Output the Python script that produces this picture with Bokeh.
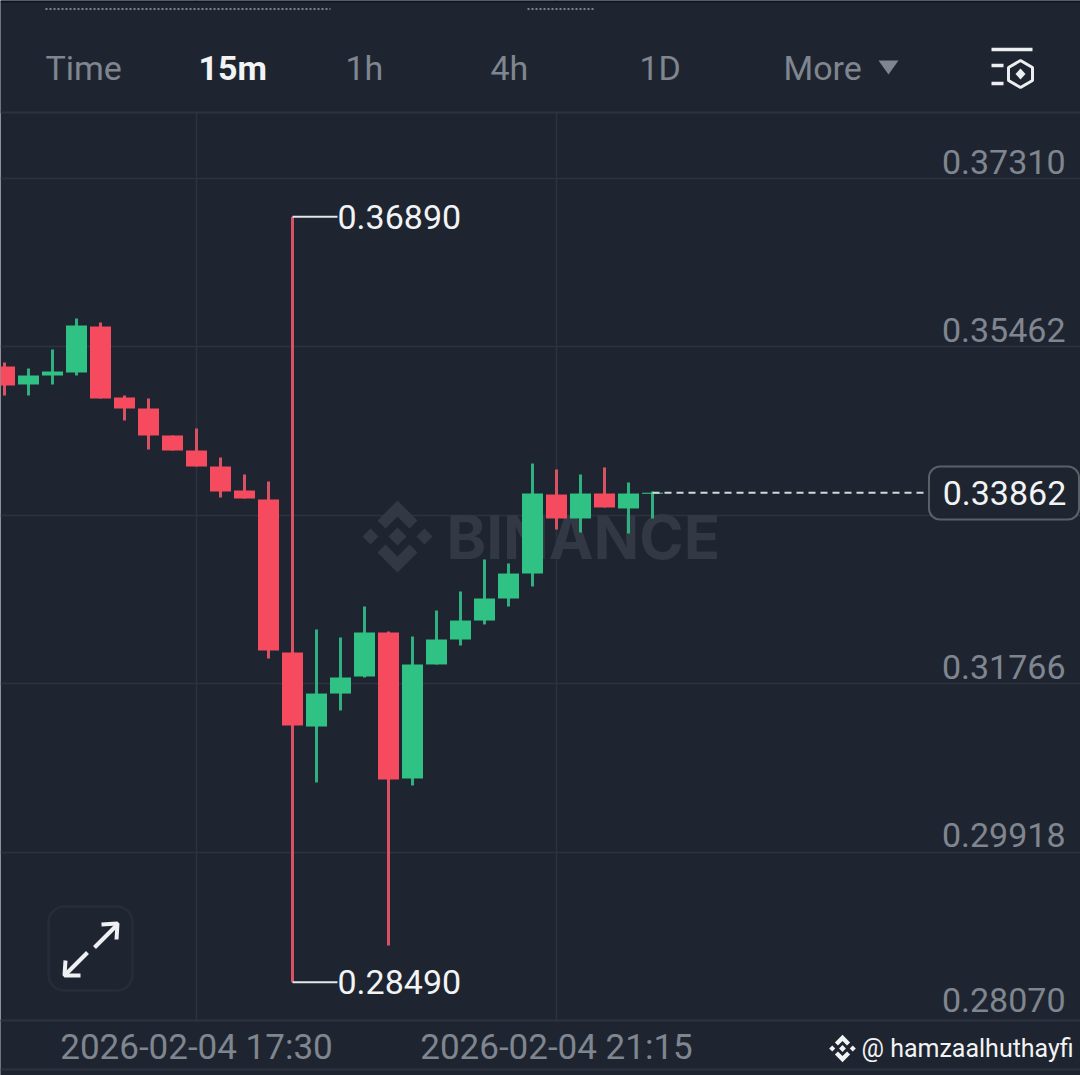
import pandas as pd
from bokeh.plotting import figure
from bokeh.embed import file_html
from bokeh.resources import INLINE
from bokeh.core.properties import value
from bokeh.models import BoxAnnotation, FixedTicker, ColumnDataSource

# ---- data ----
first_candle = "2026-02-04 15:30"
opens = [0.35247, 0.35049, 0.35148, 0.35181, 0.35686, 0.34907, 0.34786, 0.34490, 0.34325, 0.34149,
         0.33886, 0.33787, 0.32108, 0.31296, 0.31658, 0.31845, 0.32328, 0.30726, 0.31977, 0.32251,
         0.32459, 0.32701, 0.32975, 0.33842, 0.33579, 0.33853, 0.33689, 0.33850]
closes = [0.35038, 0.35148, 0.35192, 0.35697, 0.34896, 0.34786, 0.34490, 0.34325, 0.34149, 0.33875,
          0.33798, 0.32130, 0.31307, 0.31658, 0.31834, 0.32328, 0.30715, 0.31977, 0.32251, 0.32459,
          0.32701, 0.32975, 0.33853, 0.33579, 0.33853, 0.33700, 0.33853, 0.33862]
highs = [0.35291, 0.35225, 0.35433, 0.35774, 0.35730, 0.34929, 0.34896, 0.34490, 0.34566, 0.34248,
         0.34062, 0.33985, 0.36890, 0.32361, 0.32273, 0.32613, 0.32339, 0.32284, 0.32569, 0.32778,
         0.33129, 0.33085, 0.34182, 0.34117, 0.34062, 0.34139, 0.33974, 0.33875]
lows = [0.34929, 0.34929, 0.35049, 0.35148, 0.34896, 0.34654, 0.34336, 0.34325, 0.34149, 0.33809,
        0.33798, 0.32042, 0.28490, 0.30682, 0.31472, 0.31834, 0.28893, 0.30649, 0.31977, 0.32185,
        0.32416, 0.32613, 0.32833, 0.33458, 0.33425, 0.33700, 0.33414, 0.33579]
y_ticks = [0.37310, 0.35462, 0.33614, 0.31766, 0.29918, 0.28070]
y_labels = ["0.37310", "0.35462", "", "0.31766", "0.29918", "0.28070"]
x_tick_times = ["2026-02-04 17:30", "2026-02-04 21:15"]
high_mark = "0.36890"
low_mark = "0.28490"
last_price = "0.33862"
tabs = ["Time", "15m", "1h", "4h", "1D", "More"]
brand = "BINANCE"
credit = "@ hamzaalhuthayfi"

# ---- style ----
BG = "#1e2530"
GRID = "#2c333e"
RED = "#f64b5f"
GREEN = "#2fc284"
RED_W = "#d65264"
GREEN_W = "#2fb07e"
GREY = "#80868f"
WM = "#323945"
FONT = value("Roboto")


def ms(t):
    return pd.Timestamp(t).value // 10**6


PX_MS = 37500.0            # one screen pixel, in ms (24 px per 15 min)
PX_PRICE = 0.00010974      # one screen pixel, in price


def px(x):
    return ms(x_tick_times[0]) + (x - 196) * PX_MS


def py(y):
    return y_ticks[0] - (y - 178) * PX_PRICE


times = [ms(t) for t in pd.date_range(first_candle, periods=len(opens), freq="15min")]
up = [c >= o for o, c in zip(opens, closes)]
src = ColumnDataSource(dict(
    t=times,
    top=[max(o, c) for o, c in zip(opens, closes)],
    bot=[min(o, c) for o, c in zip(opens, closes)],
    hi=highs, lo=lows,
    col=[GREEN if u else RED for u in up],
    wcol=[GREEN_W if u else RED_W for u in up],
))

p = figure(width=1080, height=1075, output_backend="svg", toolbar_location=None,
           x_axis_type="datetime", x_range=(px(0), px(1080)), y_range=(py(1075), py(0)),
           y_axis_location=None,
           min_border=0, background_fill_color=BG, border_fill_color=BG,
           outline_line_color=None)
p.ygrid.ticker = FixedTicker(ticks=y_ticks)
p.xgrid.ticker = FixedTicker(ticks=[ms(t) for t in x_tick_times])
p.grid.grid_line_color = GRID
p.grid.grid_line_width = 1.5
ax = p.xaxis[0]
ax.fixed_location = y_ticks[-1]
ax.ticker = FixedTicker(ticks=[ms(t) for t in x_tick_times])
ax.major_label_overrides = {ms(t): t for t in x_tick_times}
ax.major_label_text_font = "Roboto"
ax.major_label_text_font_size = "35px"
ax.major_label_text_color = GREY
ax.major_label_standoff = 1
ax.major_tick_line_color = None
ax.minor_tick_line_color = None
ax.axis_line_color = GRID
ax.axis_line_width = 2

# header and footer strips over the vertical grid lines
p.quad(left=[px(0)] * 2, right=[px(1080)] * 2, bottom=[py(112), py(1075)], top=[py(0), y_ticks[-1]],
       fill_color=BG, line_color=None)
p.quad(left=[px(0)], right=[px(1080)], bottom=[py(2)], top=[py(0)], fill_color="#10161f", line_color=None)
p.segment(x0=[px(0), px(0)], x1=[px(1080), px(1080)], y0=[py(112), py(1069)], y1=[py(112), py(1069)],
          line_color=GRID, line_width=2)
p.segment(x0=[px(45), px(527)], x1=[px(330), px(595)], y0=[py(8.5)] * 2, y1=[py(8.5)] * 2,
          line_color="#7d838c", line_width=2, line_dash="2 2")

# tabs
tab_x = [45, 198, 345, 490, 639, 783]
tab_col = [GREY, "#f2f3f4", GREY, GREY, GREY, GREY]
tab_style = ["normal", "bold", "normal", "normal", "normal", "normal"]
for tx, lab, col, sty in zip(tab_x, tabs, tab_col, tab_style):
    p.text(x=[px(tx)], y=[py(67)], text=[lab], text_color=col, text_font=FONT, text_font_size="34px",
           text_font_style=sty, text_baseline="middle", text_align="left")
p.patch(x=[px(878), px(898), px(888)], y=[py(60), py(60), py(74)], fill_color=GREY, line_color=None)

# settings icon
ICON = "#eceef0"
p.segment(x0=[px(991), px(991), px(991)], x1=[px(1032), px(1003), px(1003)],
          y0=[py(49), py(65), py(83)], y1=[py(49), py(65), py(83)], line_color=ICON, line_width=3.5)
p.patch(x=[px(v) for v in (1020, 1032, 1032, 1020, 1008, 1008)],
        y=[py(v) for v in (60, 67, 80, 87, 80, 67)], fill_color=None, line_color=ICON, line_width=3)
p.patch(x=[px(v) for v in (1020, 1025, 1020, 1015)], y=[py(v) for v in (68, 73.5, 79, 73.5)],
        fill_color=ICON, line_color=None)


# Binance logo
LOGO_PARTS = [
    [(0, -36), (20, -16), (12, -8), (0, -20), (-12, -8), (-20, -16)],
    [(0, 36), (20, 16), (12, 8), (0, 20), (-12, 8), (-20, 16)],
    [(0, -9), (9, 0), (0, 9), (-9, 0)],
    [(-27, -8), (-19, 0), (-27, 8), (-35, 0)],
    [(27, -8), (35, 0), (27, 8), (19, 0)],
]


def logo(cx, cy, s, color):
    p.patches(xs=[[px(cx + s * a) for a, _ in q] for q in LOGO_PARTS],
              ys=[[py(cy + s * b) for _, b in q] for q in LOGO_PARTS], fill_color=color, line_color=None)


logo(397, 536, 1.0, WM)
logo(842, 1048, 0.38, "#f2f3f4")
p.text(x=[px(446)], y=[py(536)], text=[brand], text_color=WM, text_font=value("Inter"), text_font_size="60px",
       text_font_style="bold", text_baseline="middle", text_align="left")

# expand button
p.add_layout(BoxAnnotation(left=px(48), right=px(132), top=py(906), bottom=py(990), fill_alpha=0,
                           line_color="#3b414c", line_width=2.5, border_radius=16))
p.multi_line(xs=[[px(94), px(116)], [px(101), px(117), px(116)], [px(87), px(65)], [px(80), px(64), px(65)]],
             ys=[[py(947), py(925)], [py(924), py(923), py(939)], [py(952), py(974)], [py(975), py(975), py(960)]],
             line_color="#eef0f2", line_width=4)

# candles
p.segment(x0="t", x1="t", y0="hi", y1="lo", source=src, line_color="wcol", line_width=3)
p.vbar(x="t", width=21 * PX_MS, top="top", bottom="bot", source=src, fill_color="col", line_color=None)

# y labels
ylab_off = [-17, -17, 0, -17, -17, -20]
p.text(x=[px(1065)] * len(y_ticks), y=y_ticks, text=y_labels, y_offset=ylab_off, text_color=GREY,
       text_font=FONT, text_font_size="34px", text_baseline="middle", text_align="right")

# high / low marks
hi_i = highs.index(max(highs))
lo_i = lows.index(min(lows))
p.segment(x0=[times[hi_i], times[lo_i]], x1=[times[hi_i] + 45 * PX_MS, times[lo_i] + 45 * PX_MS],
          y0=[highs[hi_i], lows[lo_i]], y1=[highs[hi_i], lows[lo_i]], line_color="#e4e6e8", line_width=2)
p.text(x=[times[hi_i] + 45 * PX_MS, times[lo_i] + 45 * PX_MS], y=[highs[hi_i], lows[lo_i]],
       text=[high_mark, low_mark], text_color="#f2f3f4", text_font=FONT, text_font_size="34px",
       text_baseline="middle", text_align="left")

# last price line and box
p.segment(x0=[times[-1]], x1=[px(928)], y0=[closes[-1]], y1=[closes[-1]], line_color="#d5d7da",
          line_width=2, line_dash="7 5")
p.add_layout(BoxAnnotation(left=px(928.5), right=px(1078.5), top=py(466), bottom=py(519), fill_color=BG,
                           fill_alpha=1, line_color="#e8eaec", line_width=2, border_radius=11))
p.text(x=[px(1004)], y=[closes[-1]], text=[last_price], text_color="#f2f3f4", text_font=FONT,
       text_font_size="34px", text_baseline="middle", text_align="center", level="overlay")

# credit
p.text(x=[px(861)], y=[py(1048)], text=[credit], text_color="#f2f3f4", text_font=FONT,
       text_font_size="25px", text_baseline="middle", text_align="left", level="overlay")

open("out.html", "w").write(file_html(p, INLINE))
